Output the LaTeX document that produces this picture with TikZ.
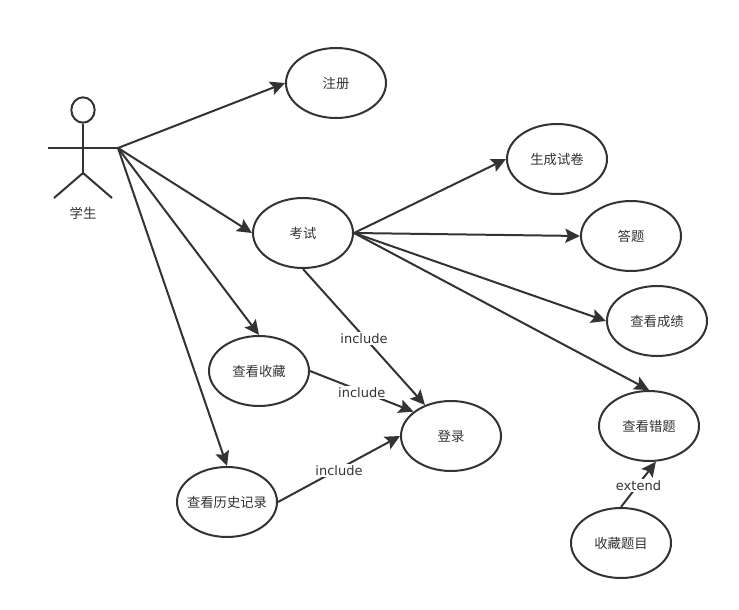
\documentclass[tikz,border=0pt]{standalone}
\usepackage{fontspec}
\setmainfont{DejaVu Sans}
\newfontfamily\cjk{Noto Sans CJK SC}
\usetikzlibrary{shapes.geometric,arrows.meta}
\definecolor{ink}{HTML}{333333}
\newcommand{\uctext}[1]{\makebox[0pt]{\raisebox{-1.5pt}{#1}}}
\tikzset{
  x=0.75pt,y=-0.75pt,
  usecase/.style={draw=ink,line width=1.5pt,ellipse,fill=white,minimum width=75pt,minimum height=52.5pt,inner sep=0pt,text=ink,font=\cjk\fontsize{10}{12}\selectfont},
  link/.style={draw=ink,line width=1.5pt,-{Stealth[length=11pt,width=10.5pt,inset=2pt]}},
  limb/.style={draw=ink,line width=1.5pt},
  tag/.style={fill=white,text=ink,inner sep=1pt,yshift=-0.9pt,font=\fontsize{9.75}{12}\selectfont},
}
\begin{document}
\begin{tikzpicture}
\useasboundingbox[fill=white] (0,0) rectangle (739,610);
% actor
\node[draw=ink,line width=1.5pt,ellipse,minimum width=17.5pt,minimum height=19pt,inner sep=0pt] (head) at (83,110) {};
\coordinate (hip) at (83,173);
\coordinate (handL) at (48,148);
\coordinate (handR) at (118,148);
\coordinate (footL) at (54,198);
\coordinate (footR) at (112,198);
\draw[limb] (head.south) -- (hip);
\draw[limb] (handL) -- (handR);
\draw[limb,line join=round] (footL) -- (hip) -- (footR);
\node[text=ink,font=\cjk\fontsize{10}{12}\selectfont] (actorname) at (83,213.5) {学生};
% use cases
\node[usecase] (reg) at (336,83) {\uctext{注册}};
\node[usecase] (exam) at (303,233) {\uctext{考试}};
\node[usecase] (gen) at (557,159) {\uctext{生成试卷}};
\node[usecase] (ans) at (631,236) {\uctext{答题}};
\node[usecase] (score) at (657,321) {\uctext{查看成绩}};
\node[usecase] (wrong) at (649,426) {\uctext{查看错题}};
\node[usecase] (fav) at (259,371) {\uctext{查看收藏}};
\node[usecase] (login) at (451,436) {\uctext{登录}};
\node[usecase] (hist) at (227,502) {\uctext{查看历史记录}};
\node[usecase] (collect) at (621,543) {\uctext{收藏题目}};
% connectors
\draw[link] (handR) -- (reg.west);
\draw[link] (handR) -- (exam.west);
\draw[link] (handR) -- (fav.north);
\draw[link] (handR) -- (hist.north);
\draw[link] (exam.east) -- (gen.west);
\draw[link] (exam.east) -- (ans.west);
\draw[link] (exam.east) -- (score.west);
\draw[link] (exam.east) -- (wrong.north);
\draw[link] (exam.south) -- node[tag] (t1) {include} (login.130);
\draw[link] (fav.east) -- node[tag] (t2) {include} (login.147);
\draw[link] (hist.east) -- node[tag] (t3) {include} (login.west);
\draw[link] (collect.north) -- node[tag] (t4) {extend} (wrong.281);
\end{tikzpicture}
\end{document}
